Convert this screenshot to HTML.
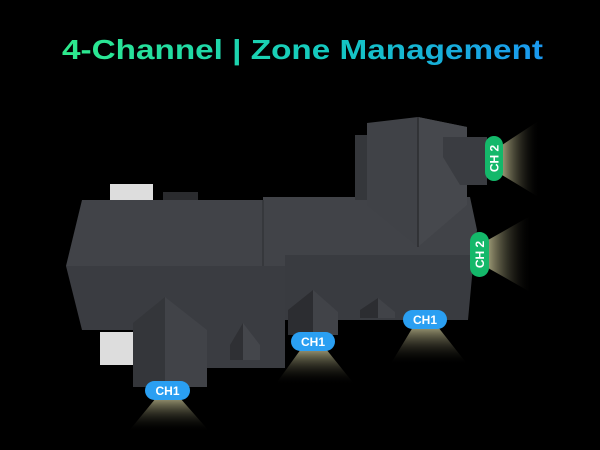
<!DOCTYPE html>
<html><head><style>html,body{margin:0;padding:0;background:#000;}svg{display:block}</style></head>
<body>
<svg width="600" height="450" viewBox="0 0 600 450" xmlns="http://www.w3.org/2000/svg">
<defs>
<linearGradient id="tg" x1="62" y1="0" x2="543" y2="0" gradientUnits="userSpaceOnUse">
<stop offset="0" stop-color="#2eea8c"/><stop offset="0.55" stop-color="#14c9c0"/><stop offset="1" stop-color="#1a98f0"/></linearGradient>
<linearGradient id="cd" x1="0" y1="0" x2="0" y2="1"><stop offset="0" stop-color="#b8b48a" stop-opacity="0.85"/><stop offset="1" stop-color="#000" stop-opacity="0"/></linearGradient>
<linearGradient id="cr" x1="0" y1="0" x2="1" y2="0"><stop offset="0" stop-color="#b8b48a" stop-opacity="0.85"/><stop offset="1" stop-color="#000" stop-opacity="0"/></linearGradient>
</defs>
<rect width="600" height="450" fill="#000"/>
<text x="62" y="59" font-family="Liberation Sans, sans-serif" font-weight="bold" font-size="28" fill="url(#tg)" textLength="481" lengthAdjust="spacingAndGlyphs">4-Channel | Zone Management</text>

<!-- light cones -->
<polygon points="156,398 180,398 210,432 128,432" fill="url(#cd)"/>
<polygon points="301,349 326,349 355,385 275,385" fill="url(#cd)"/>
<polygon points="413,327 438,327 468,365 390,365" fill="url(#cd)"/>
<polygon points="502,145 502,175 540,198 540,120" fill="url(#cr)"/>
<polygon points="488,240 488,268 532,293 532,215" fill="url(#cr)"/>

<!-- white boxes, chimney -->
<rect x="110" y="184" width="43" height="17" fill="#ddd"/>
<rect x="100" y="332" width="34" height="33" fill="#ddd"/>
<rect x="163" y="192" width="35" height="9" fill="#2a2b2e"/>

<!-- left block -->
<polygon points="82,200 263,200 263,266 66,266" fill="#414348"/>
<polygon points="66,266 285,266 285,368 207,368 207,330 133,330 82,330" fill="#3a3c41"/>
<!-- middle top -->
<polygon points="263,197 470,197 477,230 473,255 285,255 285,266 263,266" fill="#414348"/>
<!-- right lower face -->
<polygon points="285,255 474,255 468,320 285,320" fill="#393b40"/>
<!-- tower -->
<rect x="355" y="135" width="13" height="65" fill="#35373b"/>
<polygon points="367,123 418,117 467,127 467,205 418,247 367,205" fill="#404247"/>
<polygon points="418,117 467,127 467,205 418,247" fill="#46484d"/>
<line x1="418" y1="117" x2="418" y2="247" stroke="#2c2d30" stroke-width="1.5"/>
<polygon points="443,137 487,137 487,185 460,185 443,157" fill="#3a3c41"/>
<!-- front gable -->
<polygon points="133,323 165,297 165,387 133,387" fill="#34363a"/>
<polygon points="165,297 207,330 207,387 165,387" fill="#414348"/>
<!-- dormers -->
<polygon points="230,345 243,323 243,360 230,360" fill="#2f3034"/>
<polygon points="243,323 260,345 260,360 243,360" fill="#44464b"/>
<polygon points="288,310 313,290 313,335 288,335" fill="#2c2d31"/>
<polygon points="313,290 338,312 338,335 313,335" fill="#414348"/>
<polygon points="360,310 378,298 378,318 360,318" fill="#2c2d31"/>
<polygon points="378,298 395,312 395,318 378,318" fill="#414348"/>
<line x1="263" y1="200" x2="263" y2="266" stroke="#2c2d30" stroke-width="1"/>

<!-- labels -->
<g font-family="Liberation Sans, sans-serif" font-weight="bold" font-size="12" fill="#fff" text-anchor="middle">
<rect x="145" y="381" width="45" height="19" rx="9.5" fill="#2a9ff2"/><text x="167.5" y="395">CH1</text>
<rect x="291" y="332" width="44" height="19" rx="9.5" fill="#2a9ff2"/><text x="313" y="346">CH1</text>
<rect x="403" y="310" width="44" height="19" rx="9.5" fill="#2a9ff2"/><text x="425" y="324">CH1</text>
<rect x="485" y="136" width="18" height="45" rx="9" fill="#14b86a"/><text transform="translate(498.5,158.5) rotate(-90)" x="0" y="0">CH 2</text>
<rect x="470" y="232" width="19" height="45" rx="9.5" fill="#14b86a"/><text transform="translate(484,254.5) rotate(-90)" x="0" y="0">CH 2</text>
</g>
</svg>
</body></html>
